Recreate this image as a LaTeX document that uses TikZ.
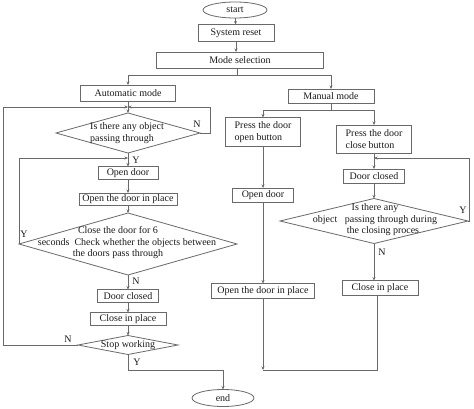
\documentclass[tikz,border=0pt]{standalone}
\usepackage{fontspec}
\setmainfont{Liberation Serif}
\usetikzlibrary{shapes.geometric,arrows.meta}
\definecolor{lg}{RGB}{105,105,105}
\definecolor{tx}{RGB}{25,25,25}
\begin{document}
\begin{tikzpicture}[x=1pt,y=-1pt,
  every node/.style={font=\fontsize{10}{11.5}\selectfont,text=tx},
  box/.style={draw=lg,line width=0.8pt,inner sep=0pt,outer sep=0pt},
  oval/.style={ellipse,draw=lg,line width=0.8pt,inner sep=0pt,outer sep=0pt},
  dia/.style={diamond,draw=lg,line width=0.8pt,inner sep=0pt,outer sep=0pt},
  ln/.style={draw=lg,line width=0.8pt},
  arr/.style={ln,-{Stealth[length=3.5pt,width=3pt]}},
  lab/.style={inner sep=0pt}]
\useasboundingbox (0,0) rectangle (474,408);
% top
\node[oval,minimum width=64pt,minimum height=16pt] (start) at (235,10) {start};
\node[box,minimum width=76pt,minimum height=17pt] (reset) at (236,33) {System reset};
\node[box,minimum width=167pt,minimum height=16pt] (mode) at (240,60) {Mode selection};
\node[box,minimum width=95pt,minimum height=16pt] (auto) at (128,93) {Automatic mode};
\node[box,minimum width=86pt,minimum height=14pt] (manual) at (331,96) {Manual mode};
% automatic column
\node[dia,minimum width=144pt,minimum height=40pt] (d1) at (128,133) {};
\node[align=left] at (127,133) {Is there any object\\passing through};
\node[box,minimum width=60pt,minimum height=13pt] (open1) at (128,173) {Open door};
\node[box,minimum width=98pt,minimum height=12pt] (inplace1) at (128,199) {Open the door in place};
\node[dia,minimum width=218pt,minimum height=62pt] (d2) at (128,244) {};
\node[align=center] at (127,243) {Close the door for 6\hspace*{18pt}\\seconds\ \ Check whether the objects between\\the doors pass through\hspace*{18pt}};
\node[box,minimum width=61pt,minimum height=13pt] (closed1) at (128,296) {Door closed};
\node[box,minimum width=76pt,minimum height=13pt] (closein1) at (128,319) {Close in place};
\node[dia,minimum width=100pt,minimum height=19pt] (stop) at (128,345) {};
\node at (128,345) {Stop working};
\node[oval,minimum width=62pt,minimum height=17pt] (end) at (223,398) {end};
% manual column
\node[box,minimum width=75pt,minimum height=29pt,align=left] (pressopen) at (263,132) {Press the door\\open button};
\node[box,minimum width=75pt,minimum height=28pt,align=left] (pressclose) at (374,139) {Press the door\\close button};
\node[box,minimum width=61pt,minimum height=14pt] (open2) at (263,195) {Open door};
\node[box,minimum width=103pt,minimum height=15pt] (inplace2) at (263,291) {Open the door in place};
\node[box,minimum width=61pt,minimum height=14pt] (closed2) at (374,176) {Door closed};
\node[dia,minimum width=188pt,minimum height=45pt] (d3) at (374,221) {};
\node[align=center] at (375,220) {Is there any\\object\ \ \ passing through during\\\hspace*{16pt}the closing proces};
\node[box,minimum width=76pt,minimum height=15pt] (closein2) at (380,288) {Close in place};
% junction coordinates
\coordinate (j1) at (128,107);
\coordinate (j2) at (128,158);
\coordinate (j3) at (374,158);
\coordinate (jend) at (223,370);
% connectors top
\draw[arr] (start) -- (reset);
\draw[arr] (reset) -- (reset |- mode.north);
\draw[ln] ([xshift=-3pt]mode.south) -- ++(0,7) coordinate (js);
\draw[arr] (js) -| (auto.north);
\draw[arr] (js) -| (manual.north);
% automatic
\draw[arr] (auto.south) -- (d1.north);
\draw[arr] (d1.east) -- ++(10,0) |- (j1);
\node[lab] at (197,124) {N};
\draw[arr] (d1.south) -- (open1.north);
\node[lab] at (136,160) {Y};
\draw[arr] (open1) -- (inplace1);
\draw[arr] (inplace1) -- (d2.north);
\draw[arr] (d2.west) |- (j2);
\node[lab] at (24,234) {Y};
\draw[arr] (d2.south) -- (closed1.north);
\node[lab] at (136,281) {N};
\draw[arr] (closed1) -- (closein1);
\draw[arr] (closein1) -- (stop.north);
\draw[arr] (stop.west) -- (3,345) |- (j1);
\node[lab] at (68,339) {N};
\draw[ln] (stop.south) |- (jend);
\node[lab] at (137,362) {Y};
\draw[arr] (jend) -- (end.north);
% manual
\draw[ln] (manual.south) -- ++(0,7) coordinate (jm);
\draw[arr] (jm) -| (pressopen.north);
\draw[arr] (jm) -| (pressclose.north);
\draw[arr] (pressopen) -- (open2);
\draw[arr] (open2) -- (inplace2);
\draw[arr] (inplace2.south) -- (inplace2.south |- jend);
\draw[arr] (pressclose) -- (closed2);
\draw[arr] (closed2) -- (d3.north);
\draw[arr] (d3.east) -- ++(1,0) |- (j3);
\node[lab] at (463,210) {Y};
\draw[arr] (d3.south) -- (d3.south |- closein2.north);
\node[lab] at (382,252) {N};
\draw[ln] ([xshift=-3pt]closein2.south) |- (inplace2.south |- jend);
\end{tikzpicture}
\end{document}
